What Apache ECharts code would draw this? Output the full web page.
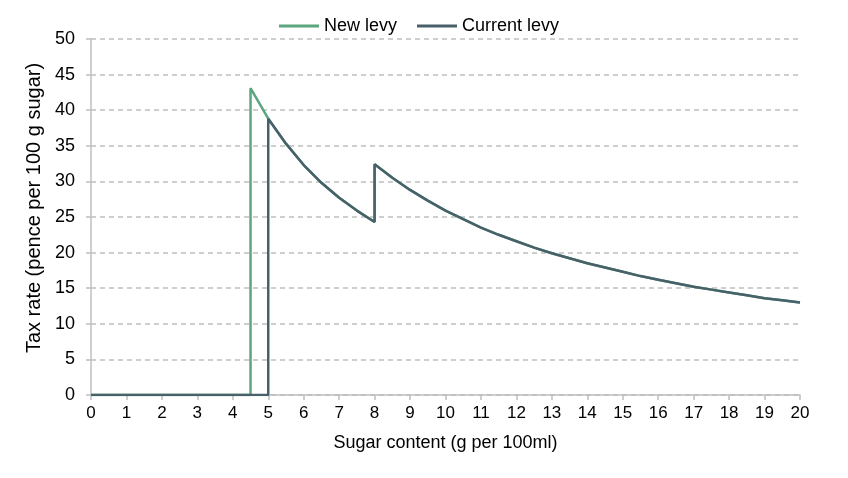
<!DOCTYPE html>
<html>
<head>
<meta charset="utf-8">
<title>Sugar levy tax rate</title>
<script src="https://cdn.jsdelivr.net/npm/echarts@6/dist/echarts.min.js"></script>
<style>
  html, body { margin: 0; padding: 0; background: #fff; }
  #main { width: 848px; height: 478px; }
</style>
</head>
<body>
<div id="main"></div>
<script>
// values
var sugarCurrent = [0, 5, 5, 5.5, 6, 6.5, 7, 7.5, 8, 8, 8.5, 9, 9.5, 10, 10.5, 11, 11.5, 12, 12.5, 13, 13.5, 14, 14.5, 15, 15.5, 16, 16.5, 17, 17.5, 18, 18.5, 19, 19.5, 20]
var rateCurrent = [0, 0, 38.8, 35.3, 32.3, 29.8, 27.7, 25.9, 24.3, 32.4, 30.5, 28.8, 27.3, 25.9, 24.7, 23.5, 22.5, 21.6, 20.7, 19.9, 19.2, 18.5, 17.9, 17.3, 16.7, 16.2, 15.7, 15.2, 14.8, 14.4, 14.0, 13.6, 13.3, 13.0]
var sugarNew = [0, 4.5, 4.5, 5, 5.5, 6, 6.5, 7, 7.5, 8, 8, 8.5, 9, 9.5, 10, 10.5, 11, 11.5, 12, 12.5, 13, 13.5, 14, 14.5, 15, 15.5, 16, 16.5, 17, 17.5, 18, 18.5, 19, 19.5, 20]
var rateNew = [0, 0, 43.1, 38.8, 35.3, 32.3, 29.8, 27.7, 25.9, 24.3, 32.4, 30.5, 28.8, 27.3, 25.9, 24.7, 23.5, 22.5, 21.6, 20.7, 19.9, 19.2, 18.5, 17.9, 17.3, 16.7, 16.2, 15.7, 15.2, 14.8, 14.4, 14.0, 13.6, 13.3, 13.0]

function pairs(xs, ys) {
  return xs.map(function (x, i) { return [x, ys[i]] })
}

var font = 'Liberation Sans, Arial, sans-serif'
var axisGrey = '#bfbfbf'

var myChart = echarts.init(document.getElementById('main'))
var option = {
  animation: false,
  textStyle: { fontFamily: font },
  legend: {
    top: 12,
    left: 274,
    itemWidth: 40,
    itemHeight: 3,
    itemGap: 20,
    icon: 'rect',
    textStyle: { fontSize: 18, color: '#000', fontFamily: font },
    data: ['New levy', 'Current levy']
  },
  grid: { left: 91, right: 48, top: 39, bottom: 83 },
  xAxis: {
    type: 'value',
    min: 0,
    max: 20,
    interval: 1,
    name: 'Sugar content (g per 100ml)',
    nameLocation: 'middle',
    nameGap: 39,
    nameTextStyle: { fontSize: 18, color: '#000' },
    axisLine: { lineStyle: { color: axisGrey, width: 1.5 } },
    axisTick: { show: true, length: 5, lineStyle: { color: axisGrey, width: 1.5 } },
    axisLabel: { fontSize: 17, color: '#000', margin: 10 },
    splitLine: { show: false }
  },
  yAxis: {
    type: 'value',
    min: 0,
    max: 50,
    interval: 5,
    name: 'Tax rate (pence per 100 g sugar)',
    nameLocation: 'middle',
    nameGap: 43,
    nameTextStyle: { fontSize: 20, color: '#000', padding: [0, 0, 0, 18] },
    axisLine: { show: true, lineStyle: { color: axisGrey, width: 1.5 } },
    axisTick: { show: true, length: 5, lineStyle: { color: axisGrey, width: 1.5 } },
    axisLabel: { fontSize: 18, color: '#000', margin: 16 },
    splitLine: { show: true, lineStyle: { color: axisGrey, width: 1.5, type: [5, 4] } }
  },
  series: [
    {
      name: 'New levy',
      type: 'line',
      data: pairs(sugarNew, rateNew),
      showSymbol: false,
      color: '#5ba67e',
      lineStyle: { width: 2.5 },
      z: 2
    },
    {
      name: 'Current levy',
      type: 'line',
      data: pairs(sugarCurrent, rateCurrent),
      showSymbol: false,
      color: '#48606a',
      lineStyle: { width: 2.5 },
      z: 3
    }
  ]
}
myChart.setOption(option)
</script>
</body>
</html>
